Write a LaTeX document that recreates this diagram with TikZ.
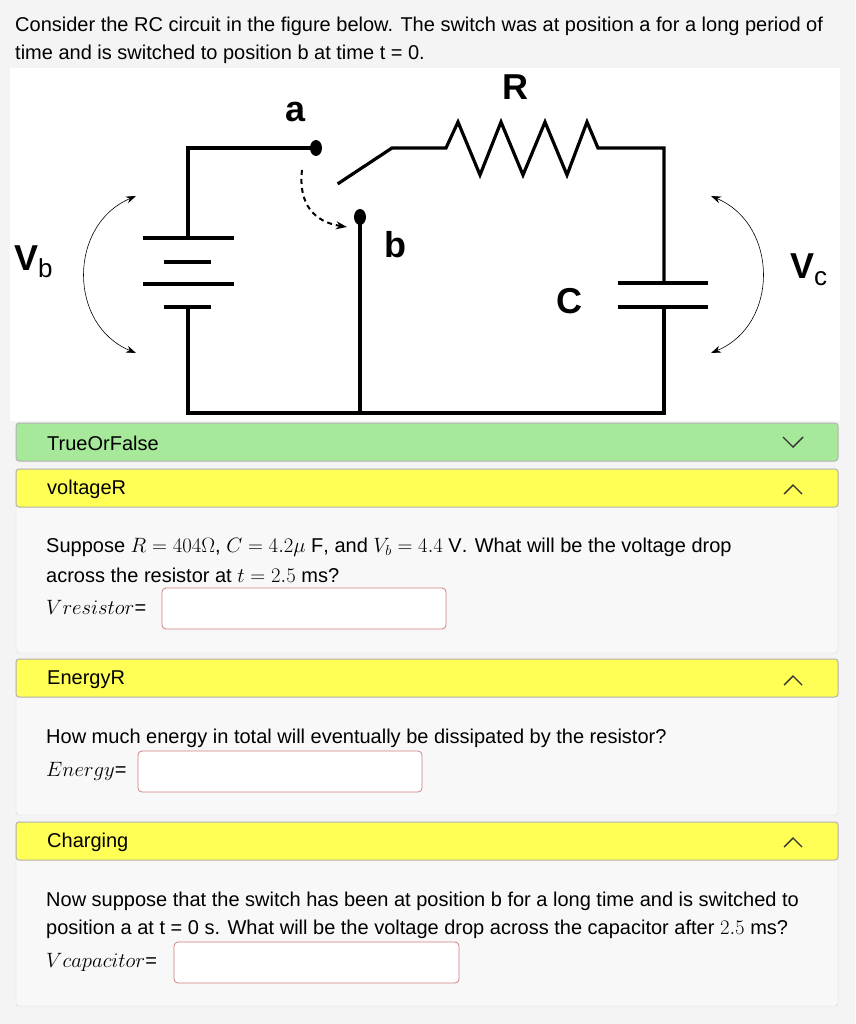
\documentclass[tikz,border=0pt]{standalone}
\usepackage{fontspec}
\setmainfont{Liberation Sans}
\usetikzlibrary{arrows.meta}
\definecolor{bg}{HTML}{F4F4F4}
\definecolor{grn}{HTML}{A6E99A}
\definecolor{yel}{HTML}{FFFF55}
\definecolor{pan}{HTML}{F8F8F8}
\definecolor{bord}{HTML}{D8D8D8}
\definecolor{boxr}{HTML}{D08080}
\begin{document}
\begin{tikzpicture}[x=1pt,y=-1pt,
  wire/.style={line width=3.2pt,line cap=rect},
  txt/.style={anchor=west,inner sep=0pt,font=\fontsize{20}{24}\selectfont},
  bar/.style={draw=gray!60,line width=1pt,rounded corners=3pt},
  body/.style={draw=bord,fill=pan,rounded corners=3pt},
  ansbox/.style={draw=boxr,fill=white,rounded corners=4pt,line width=0.8pt},
  chev/.style={line width=1.4pt,black!80},
  lab/.style={font=\bfseries\fontsize{36}{36}\selectfont,inner sep=0pt},
  varc/.style={line width=0.6pt,{Stealth[length=10pt,width=7pt]}-{Stealth[length=10pt,width=7pt]}}]
\useasboundingbox (0,0) rectangle (855,1024);
\fill[bg] (0,0) rectangle (855,1024);
\node[txt] (t1) at (15,26) {Consider the RC circuit in the figure below. The switch was at position a for a long period of};
\node[txt] (t2) at (15,54) {time and is switched to position b at time t = 0.};
% circuit image
\fill[white] (10,68) rectangle (840,421);
\coordinate (tl) at (188,148);
\coordinate (bl) at (188,413);
\coordinate (br) at (664,413);
\coordinate (tr) at (664,148);
\draw[wire] (316,148) -- (tl) -- (188,238);
\draw[wire] (188,307) -- (bl) -- (br) -- (664,307);
\draw[wire] (664,283) -- (tr) -- (598,148) -- (587,122) -- (567,175) -- (545,122) -- (523,175) -- (501,122) -- (480,175) -- (458,122) -- (446,148) -- (392,148) -- (339,183);
\draw[wire] (145,238) -- (232,238);
\draw[wire] (166,262) -- (209,262);
\draw[wire] (145,284) -- (232,284);
\draw[wire] (166,307) -- (209,307);
\draw[wire] (620,283) -- (706,283);
\draw[wire] (620,307) -- (706,307);
\draw[wire] (360,217) -- (360,413);
\fill (316,148) ellipse (6 and 8);
\fill (360,217) ellipse (6 and 8);
\draw[line width=2pt,dash pattern=on 5pt off 4pt,-{Stealth[length=11pt,width=8pt]}] (302,170) .. controls (298,205) and (315,222) .. (347,227);
\node[lab] (la) at (296,112) {a};
\node[lab] (lr) at (515,87) {R};
\node[lab] (lb) at (395,245) {b};
\node[lab] (lc) at (569,301) {C};
\node[anchor=west,inner sep=0pt] (vb) at (14,262) {\fontsize{36}{36}\selectfont\bfseries V\fontsize{26}{26}\mdseries\raisebox{-7pt}{b}};
\node[anchor=west,inner sep=0pt] (vc) at (790,270) {\fontsize{36}{36}\selectfont\bfseries V\fontsize{26}{26}\mdseries\raisebox{-7pt}{c}};
\draw[varc] (136,196) .. controls (68,225) and (68,325) .. (136,353);
\draw[varc] (711,196) .. controls (779,225) and (779,325) .. (711,353);
% TrueOrFalse
\draw[bar,fill=grn] (16,423) rectangle (838,461);
\node[txt] (q1) at (47,443) {TrueOrFalse};
\draw[chev] (783,437) -- (793,447) -- (803,437);
% voltageR
\draw[body] (16,469) rectangle (838,653);
\draw[bar,fill=yel] (16,469) rectangle (838,507);
\node[txt] (q2) at (47,489) {voltageR};
\draw[chev] (784,494) -- (793,485) -- (802,494);
\node[txt] (p2a) at (46,547) {Suppose $R=404\Omega$, $C=4.2\mu\ \mathrm{F}$, and $V_b=4.4\ \mathrm{V}$. What will be the voltage drop};
\node[txt] (p2b) at (46,575) {across the resistor at $t=2.5\ \mathrm{ms}$?};
\node[txt] (p2c) at (46,607) {$Vresistor$=};
\draw[ansbox] (162,588) rectangle (446,629);
% EnergyR
\draw[body] (16,659) rectangle (838,815);
\draw[bar,fill=yel] (16,659) rectangle (838,697);
\node[txt] (q3) at (47,680) {EnergyR};
\draw[chev] (784,685) -- (793,676) -- (802,685);
\node[txt] (p3a) at (46,738) {How much energy in total will eventually be dissipated by the resistor?};
\node[txt] (p3b) at (46,771) {$Energy$=};
\draw[ansbox] (138,751) rectangle (422,792);
% Charging
\draw[body] (16,822) rectangle (838,1006);
\draw[bar,fill=yel] (16,822) rectangle (838,860);
\node[txt] (q4) at (47,842) {Charging};
\draw[chev] (784,847) -- (793,838) -- (802,847);
\node[txt] (p4a) at (46,901) {Now suppose that the switch has been at position b for a long time and is switched to};
\node[txt] (p4b) at (46,929) {position a at t = 0 s. What will be the voltage drop across the capacitor after $2.5\ \mathrm{ms}$?};
\node[txt] (p4c) at (46,962) {$Vcapacitor$=};
\draw[ansbox] (174,942) rectangle (459,983);
\end{tikzpicture}
\end{document}
